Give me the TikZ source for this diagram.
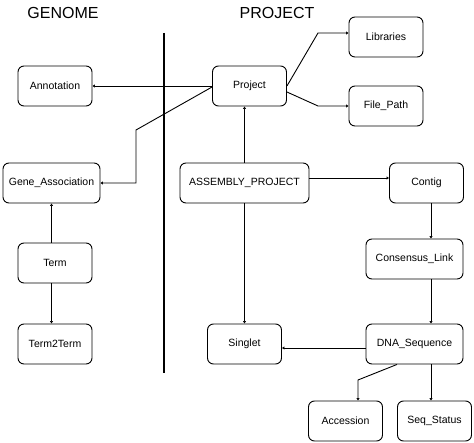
\documentclass[tikz,border=0pt]{standalone}
\usepackage{fontspec}
\setmainfont{Liberation Sans}
\usetikzlibrary{arrows.meta}
\tikzset{>={Latex[width=3.5pt,length=2.5pt]}}

\begin{document}
\begin{tikzpicture}[
    x = 1pt, y = -1pt,
    box/.style = {draw, line width=0.9pt, rounded corners=6pt,
        minimum width=74pt, minimum height=40pt, inner sep=2pt,
        font=\fontsize{10.5}{12}\selectfont},
    wide/.style = {box, minimum width=97pt},
    link/.style = {line width=0.9pt, ->},
    title/.style = {font=\fontsize{16}{18}\selectfont}
  ]
  \useasboundingbox (0,0) rectangle (474,443);

  % headings and divider
  \node[title] (genome) at (63,13) {GENOME};
  \node[title] (projectTitle) at (277,13) {PROJECT};
  \draw[line width=2pt] (164,33) -- (164,373);

  % GENOME side
  \node[box] (annotation) at (55,86) {Annotation};
  \node[wide] (geneAssoc) at (51.5,183) {Gene\_Association};
  \node[box] (term) at (55,263) {Term};
  \node[box] (termTerm) at (55,344) {Term2Term};

  % PROJECT side
  \node[box] (project) at (249.5,86) {Project};
  \node[box] (libraries) at (386,37) {Libraries};
  \node[box] (filePath) at (386,106) {File\_Path};
  \node[box, minimum width=129pt] (assembly) at (244.5,183) {ASSEMBLY\_PROJECT};
  \node[box] (contig) at (426.5,183) {Contig};
  \node[wide] (consensus) at (414.5,259) {Consensus\_Link};
  \node[box] (singlet) at (244.5,344) {Singlet};
  \node[wide] (dnaSeq) at (414.5,344) {DNA\_Sequence};
  \node[box] (accession) at (345.5,421) {Accession};
  \node[box] (seqStatus) at (434.5,421) {Seq\_Status};

  % bends
  \coordinate (libBend) at (318,33);
  \coordinate (fileBend) at (318,106);
  \coordinate (geneBend) at (136,130);
  \coordinate (accBend) at (358,380);

  % connectors
  \draw[link] (project) -- (annotation);
  \draw[link] (project.east) -- (libBend) -- (libBend -| libraries.west);
  \draw[link] ([yshift=-6pt]project.east) -- (fileBend) -- (filePath.west);
  \draw[link] ([yshift=-1pt]project.west) -- (geneBend) |- (geneAssoc.east);
  \draw[link] (geneAssoc.south |- term.north) -- (geneAssoc.south);
  \draw[link] (geneAssoc.south |- term.south) -- (geneAssoc.south |- termTerm.north);
  \draw[link] (assembly.north) -- (assembly.north |- project.south);
  \draw[link] ([yshift=5pt]assembly.east) -- ([yshift=5pt]contig.west);
  \draw[link] ([xshift=4.5pt]contig.south) -- ([xshift=4.5pt]contig.south |- consensus.north);
  \draw[link] ([xshift=16.5pt]consensus.south) -- ([xshift=16.5pt]dnaSeq.north);
  \draw[link] (assembly.south) -- (singlet.north);
  \draw[link] ([yshift=-4pt]dnaSeq.west) -- ([yshift=-4pt]dnaSeq.west -| singlet.east);
  \draw[link] ([xshift=-17.5pt]dnaSeq.south) -- (accBend) -- (accBend |- accession.north);
  \draw[link] ([xshift=16.5pt]dnaSeq.south) -- ([xshift=16.5pt]dnaSeq.south |- seqStatus.north);
\end{tikzpicture}
\end{document}
